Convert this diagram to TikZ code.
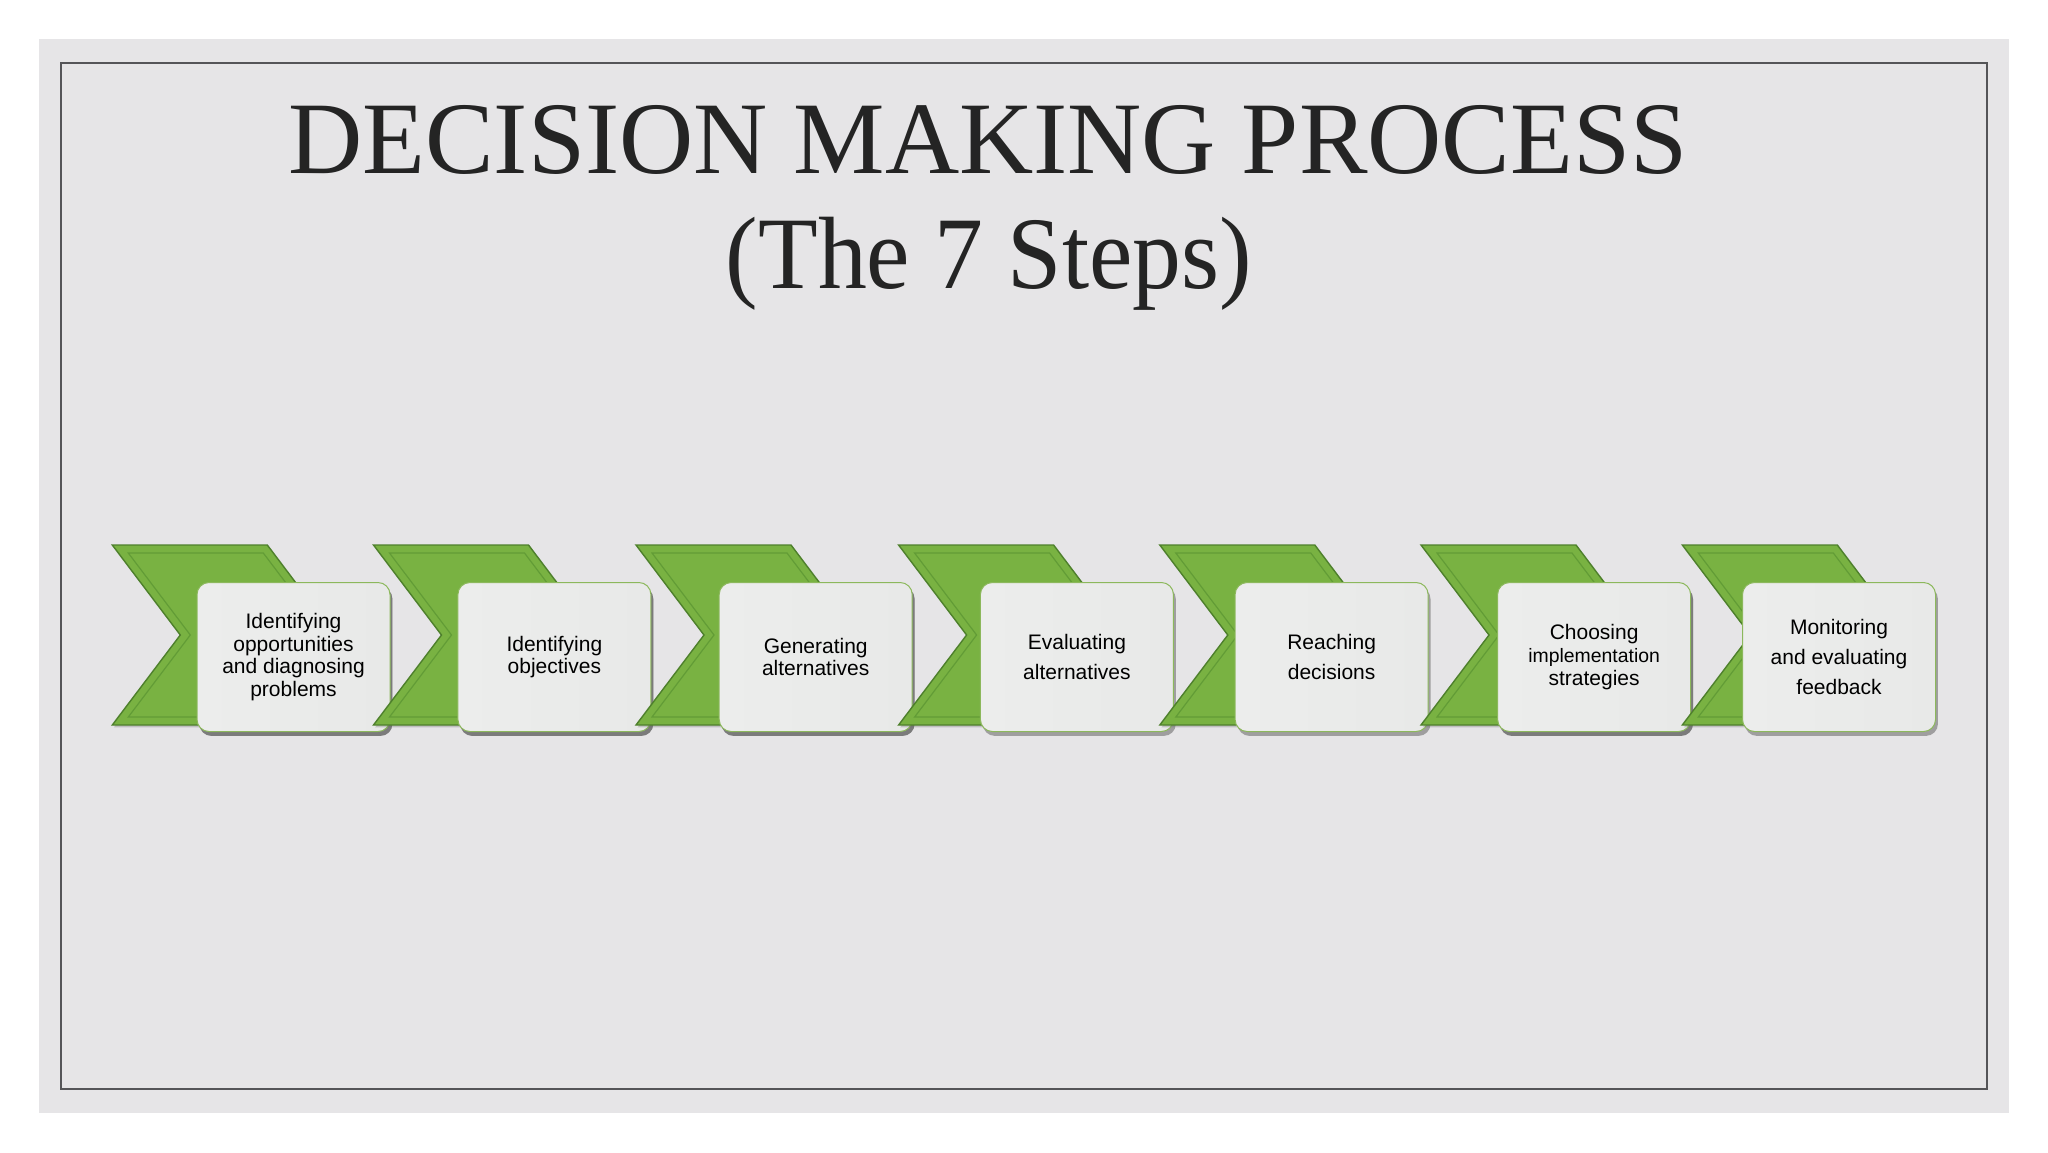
\documentclass[tikz,border=0pt]{standalone}
\usepackage{fontspec}
\setmainfont{Liberation Serif}
\newfontfamily\boxfont{Liberation Sans}
\usetikzlibrary{shadows}
\definecolor{slidebg}{RGB}{230,229,231}
\definecolor{framecol}{RGB}{85,85,88}
\definecolor{titlecol}{RGB}{36,36,36}
\definecolor{chevfill}{RGB}{121,178,66}
\definecolor{chevedge}{RGB}{78,128,44}
\definecolor{chevinner}{RGB}{98,156,54}
\definecolor{boxA}{RGB}{236,237,236}
\definecolor{boxB}{RGB}{246,246,246}
\definecolor{boxC}{RGB}{232,233,232}
\definecolor{boxedge}{RGB}{140,184,92}
\tikzset{
  stepbox/.style={draw=boxedge, line width=0.5pt, rounded corners=6pt,
    minimum width=96.5pt, minimum height=74.5pt, inner sep=0pt, align=center,
    left color=boxA, middle color=boxB, right color=boxC,
    drop shadow={shadow xshift=1.2pt, shadow yshift=-2.2pt, opacity=0.5, fill=black!65},
    font=\boxfont\fontsize{10.5}{11.3}\selectfont, text=black},
  widebox/.style={font=\boxfont\fontsize{10.5}{15.2}\selectfont},
  chev/.style={fill=chevfill, draw=chevedge, line width=0.7pt, line join=miter,
    drop shadow={shadow xshift=0.8pt, shadow yshift=-1.2pt, opacity=0.3, fill=black!60}},
  chevbevel/.style={draw=chevinner, line width=0.6pt, line join=miter},
  titletext/.style={text=titlecol, inner sep=0pt, font=\fontsize{51.4}{60}\selectfont}
}
\begin{document}
\begin{tikzpicture}[x=0.5pt, y=-0.5pt]
  \useasboundingbox (0,0) rectangle (2048,1152);
  \fill[white] (0,0) rectangle (2048,1152);
  \fill[slidebg] (39,39) rectangle (2009,1113);
  \draw[framecol, line width=0.9pt] (61,63) rectangle (1987,1089);

  \node[titletext, anchor=base] (title) at (988,173) {DECISION MAKING PROCESS};
  \node[titletext, anchor=base, xscale=0.95] (subtitle) at (989,288) {(The 7 Steps)};

  \foreach \i/\cx/\bx/\txt/\sty in {
    1/112.3/293.5/{Identifying\\opportunities\\and diagnosing\\problems}/stepbox,
    2/373.5/554.4/{Identifying\\objectives}/stepbox,
    3/636/815.7/{Generating\\alternatives}/stepbox,
    4/898.6/1076.9/{Evaluating\\alternatives}/widebox,
    5/1159.8/1331.6/{Reaching\\decisions}/widebox,
    6/1421/1594.1/{Choosing\\{\fontsize{9.7}{11.3}\selectfont implementation}\\strategies}/stepbox,
    7/1682.3/1839/{Monitoring\\and evaluating\\feedback}/widebox}{
    \draw[chev] (\cx,545) -- ++(155,0) -- ++(68,90) -- ++(-68,90) -- ++(-155,0) -- ++(68,-90) -- cycle;
    \draw[chevbevel] (\cx+16,553) -- (\cx+151,553) -- (\cx+213,635) -- (\cx+151,717) -- (\cx+16,717) -- (\cx+78,635) -- cycle;
    \node[stepbox, \sty] (s\i) at (\bx,657) {\txt};
  }
\end{tikzpicture}
\end{document}
